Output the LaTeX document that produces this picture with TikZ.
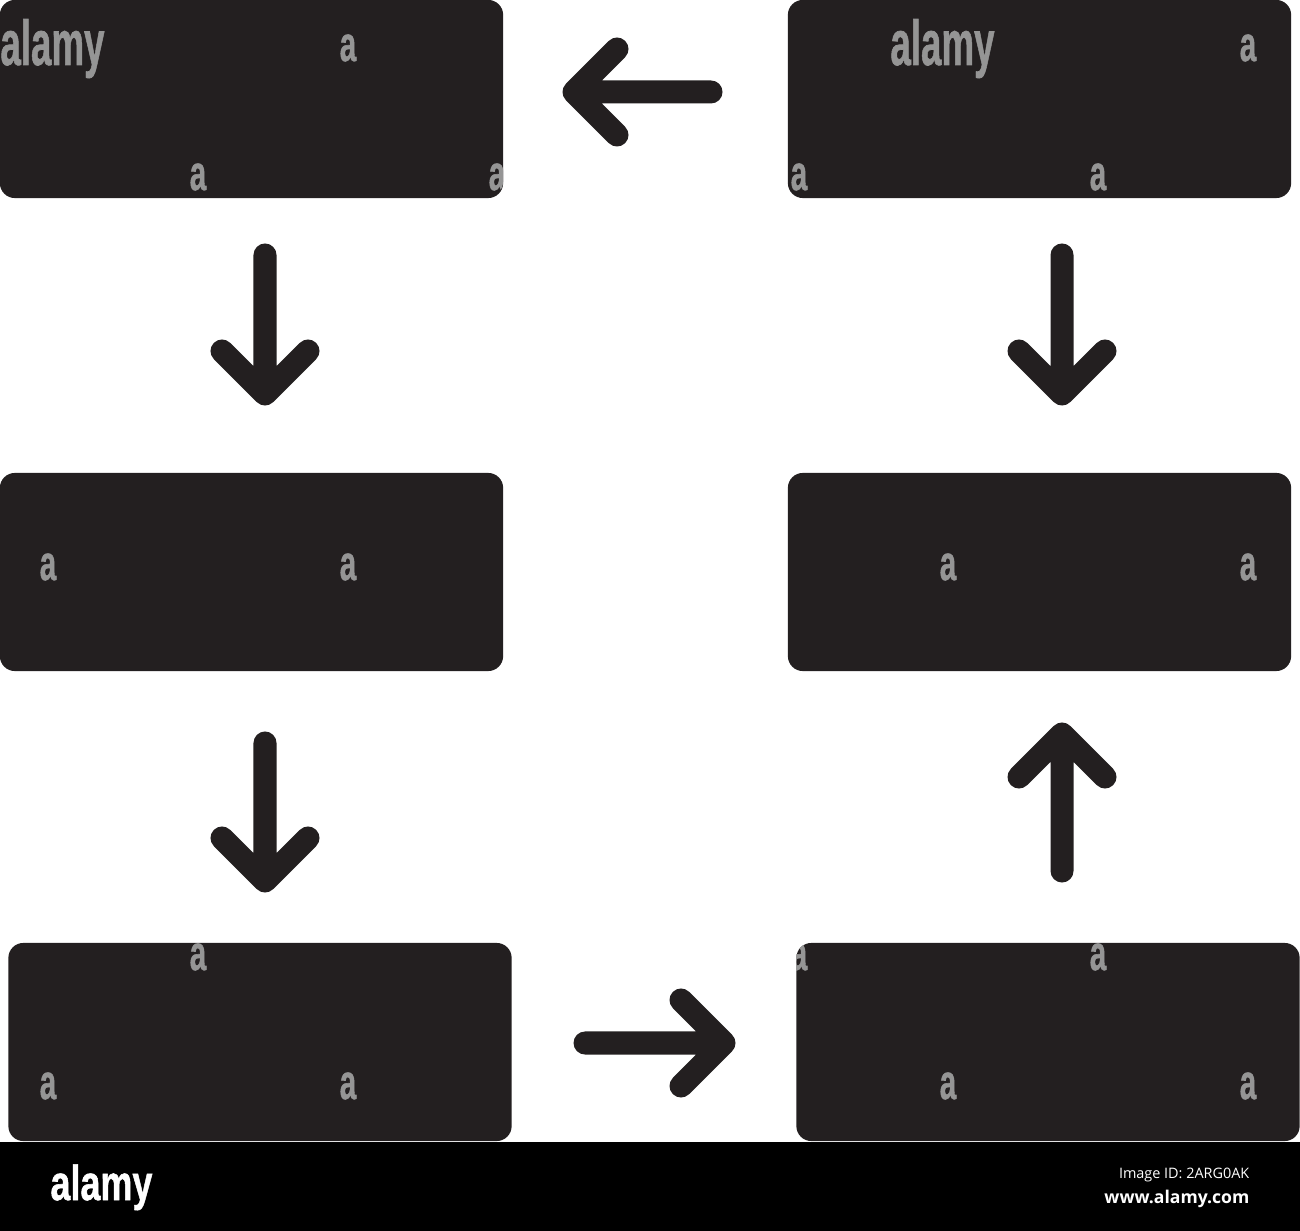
\documentclass[tikz,border=0pt]{standalone}
\usepackage{fontspec}
\setmainfont{Liberation Sans}
\newfontfamily\osans{Open Sans}
\newfontfamily\wmfont[FakeBold=1.2]{Liberation Sans Bold}
\definecolor{boxc}{HTML}{231F20}
\definecolor{wmc}{HTML}{959595}
\begin{document}
\begin{tikzpicture}[x=0.01cm,y=-0.01cm,
  blk/.style={fill=boxc, draw=none, rounded corners=0.15cm, minimum width=5.03cm, minimum height=1.98cm, inner sep=0pt},
  flow/.style={draw=boxc, line width=0.23cm, line cap=round, line join=round},
  wma/.style={text=wmc, font=\wmfont\fontsize{14}{14}\selectfont, xscale=0.6, anchor=base, inner sep=0pt},
  wmw/.style={text=wmc, font=\wmfont\fontsize{18}{18}\selectfont, xscale=0.58, anchor=base west, inner sep=0pt}]
\useasboundingbox (0,0) rectangle (1300,1231);
\fill[white] (0,0) rectangle (1300,1231);
% bottom bar
\fill[black] (0,1142) rectangle (1300,1231);
% boxes
\node[blk] (tl) at (251.5,99) {};
\node[blk] (tr) at (1039.5,99) {};
\node[blk] (ml) at (251.5,572) {};
\node[blk] (mr) at (1039.5,572) {};
\node[blk] (bl) at (260,1042) {};
\node[blk] (br) at (1048,1042) {};
% arrows
\coordinate (a1s) at (711,92);  \coordinate (a1t) at (574,92);
\coordinate (a2s) at (265,255); \coordinate (a2t) at (265,394);
\coordinate (a3s) at (265,743); \coordinate (a3t) at (265,881);
\coordinate (a4s) at (585,1043); \coordinate (a4t) at (724,1043);
\coordinate (a5s) at (1062,871); \coordinate (a5t) at (1062,734);
\coordinate (a6s) at (1062,255); \coordinate (a6t) at (1062,394);
\draw[flow] (a1s) -- (a1t) ++(43,-43) -- (a1t) -- ++(43,43);
\draw[flow] (a2s) -- (a2t) ++(-43,-43) -- (a2t) -- ++(43,-43);
\draw[flow] (a3s) -- (a3t) ++(-43,-43) -- (a3t) -- ++(43,-43);
\draw[flow] (a4s) -- (a4t) ++(-43,-43) -- (a4t) -- ++(-43,43);
\draw[flow] (a5s) -- (a5t) ++(-43,43) -- (a5t) -- ++(43,43);
\draw[flow] (a6s) -- (a6t) ++(-43,-43) -- (a6t) -- ++(43,-43);
% watermarks, visible only on the boxes
\begin{scope}
\clip[rounded corners=0.15cm] (0,0) rectangle (503,197) (788,0) rectangle (1291,197)
  (0,473) rectangle (503,671) (788,473) rectangle (1291,671)
  (8,943) rectangle (512,1141) (796,943) rectangle (1300,1141);
\node[wmw] (w1) at (0,65) {alamy};
\node[wmw] (w2) at (890,65) {alamy};
\node[wma] (w3) at (348,61) {a};
\node[wma] (w4) at (198,190) {a};
\node[wma] (w5) at (497,190) {a};
\node[wma] (w6) at (1248,61) {a};
\node[wma] (w7) at (799,190) {a};
\node[wma] (w8) at (1098,190) {a};
\node[wma] (w9) at (48,580) {a};
\node[wma] (w10) at (348,580) {a};
\node[wma] (w11) at (948,580) {a};
\node[wma] (w12) at (1248,580) {a};
\node[wma] (w13) at (198,970) {a};
\node[wma] (w14) at (48,1099) {a};
\node[wma] (w15) at (348,1099) {a};
\node[wma] (w16) at (799,970) {a};
\node[wma] (w17) at (1098,970) {a};
\node[wma] (w18) at (948,1099) {a};
\node[wma] (w19) at (1248,1099) {a};
\end{scope}
% bottom bar text
\node[text=white, font=\wmfont\fontsize{14}{14}\selectfont, xscale=0.73, anchor=base west, inner sep=0pt] (logo) at (50,1200) {alamy};
\node[text=white, font=\osans\fontsize{4.1}{4.1}\selectfont, anchor=base east, inner sep=0pt] (imgid) at (1250,1178) {Image ID: 2ARG0AK};
\node[text=white, font=\osans\fontsize{5}{5}\selectfont\bfseries, anchor=base east, inner sep=0pt] (url) at (1250,1203) {www.alamy.com};
\end{tikzpicture}
\end{document}
